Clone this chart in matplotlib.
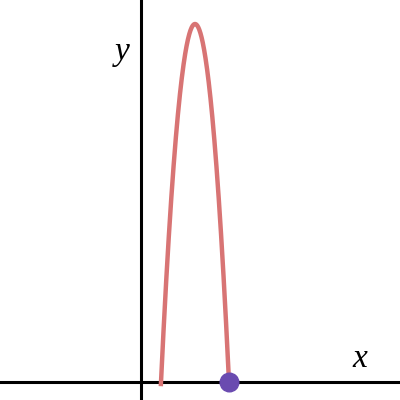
import matplotlib.pyplot as plt
import numpy as np

# parabola given by its roots and peak height (units: tenths of a pixel grid)
root_left = 2.0
root_right = 8.8
peak_height = 35.8
x_start = 1.98

x_range = (-14.1, 25.9)
y_range = (-1.8, 38.2)

fig = plt.figure(figsize=(4, 4), dpi=100)
ax = fig.add_axes([0, 0, 1, 1])
ax.set_xlim(*x_range)
ax.set_ylim(*y_range)
ax.axis('off')

ax.axhline(0, color='black', lw=2.2, zorder=1)
ax.axvline(0, color='black', lw=2.2, zorder=1)

mid = (root_left + root_right) / 2
a = peak_height / ((mid - root_left) * (root_right - mid))
xs = np.linspace(x_start, root_right, 300)
ys = a * (xs - root_left) * (root_right - xs)
ax.plot(xs, ys, color='#d87474', lw=3.2, solid_capstyle='butt', zorder=2)

ax.scatter([root_right], [0], s=180, color='#6a4bb0', zorder=3)

ax.text(-1.9, 33.0, 'y', fontsize=24, family='Liberation Serif', style='italic',
        ha='center', va='center')
ax.text(21.9, 2.3, 'x', fontsize=24, family='Liberation Serif', style='italic',
        ha='center', va='center')

fig.savefig('out.png', dpi=100)
